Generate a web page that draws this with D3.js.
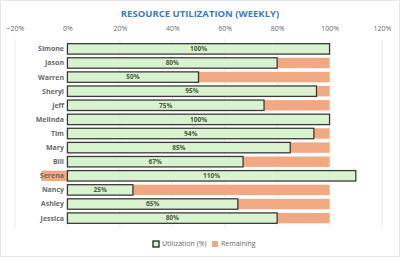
<!DOCTYPE html>
<html>
<head>
<meta charset="utf-8">
<script src="https://cdn.jsdelivr.net/npm/d3@7"></script>
<style>
  body { margin: 0; background: #fff; }
  text { font-family: "Open Sans", "Liberation Sans", sans-serif; }
</style>
</head>
<body>
<svg id="chart" width="400" height="258"></svg>
<script>
// chart data
var people = ["Simone", "Jason", "Warren", "Sheryl", "Jeff", "Melinda", "Tim", "Mary", "Bill", "Serena", "Nancy", "Ashley", "Jessica"];
var utilization = [1.00, 0.80, 0.50, 0.95, 0.75, 1.00, 0.94, 0.85, 0.67, 1.10, 0.25, 0.65, 0.80];
var remaining = [0.00, 0.20, 0.50, 0.05, 0.25, 0.00, 0.06, 0.15, 0.33, -0.10, 0.75, 0.35, 0.20];
var tickValues = [-0.2, 0, 0.2, 0.4, 0.6, 0.8, 1.0, 1.2];

var svg = d3.select("#chart");
var greenFill = "#d9f2d0";
var orangeFill = "#f1a983";
var textGray = "#6a6a6a";

// outer border of chart
svg.append("rect")
  .attr("x", 0.5).attr("y", 0.5)
  .attr("width", 399).attr("height", 256)
  .attr("fill", "none").attr("stroke", "#e6e6e6");

var x = d3.scaleLinear().domain([-0.2, 1.2]).range([15, 382]);
var y = d3.scaleBand().domain(people).range([40, 227]).padding(0.26);

// title
svg.append("text")
  .attr("x", 200).attr("y", 17)
  .attr("text-anchor", "middle")
  .attr("font-size", 9.5).attr("font-weight", "bold")
  .attr("fill", "#3a7dbf")
  .text("RESOURCE UTILIZATION (WEEKLY)");

// gridlines
svg.append("g").selectAll("line")
  .data(tickValues).enter().append("line")
  .attr("x1", function (d) { return x(d); })
  .attr("x2", function (d) { return x(d); })
  .attr("y1", 39).attr("y2", 228)
  .attr("stroke", "#ececec").attr("stroke-width", 1);

// top axis with tick labels
var axis = svg.append("g")
  .attr("transform", "translate(0,34)")
  .call(d3.axisTop(x).tickValues(tickValues).tickFormat(d3.format(".0%")).tickSize(0).tickPadding(3));
axis.select(".domain").remove();
axis.selectAll("text")
  .attr("font-size", 7).attr("fill", textGray)
  .style("font-family", "'Open Sans', sans-serif");

// remaining bars (stacked after utilization, negative goes left from zero)
svg.append("g").selectAll("rect")
  .data(people).enter().append("rect")
  .attr("x", function (d, i) {
    return remaining[i] >= 0 ? x(utilization[i]) : x(remaining[i]);
  })
  .attr("y", function (d) { return y(d); })
  .attr("width", function (d, i) { return Math.abs(x(remaining[i]) - x(0)); })
  .attr("height", y.bandwidth())
  .attr("fill", orangeFill);

// category labels
svg.append("g").selectAll("text")
  .data(people).enter().append("text")
  .attr("x", 64)
  .attr("y", function (d) { return y(d) + y.bandwidth() / 2; })
  .attr("dy", "0.35em")
  .attr("text-anchor", "end")
  .attr("font-size", 7).attr("font-weight", "bold")
  .attr("fill", textGray)
  .text(function (d) { return d; });

// utilization bars
svg.append("g").selectAll("rect")
  .data(people).enter().append("rect")
  .attr("x", x(0))
  .attr("y", function (d) { return y(d); })
  .attr("width", function (d, i) { return x(utilization[i]) - x(0); })
  .attr("height", y.bandwidth())
  .attr("fill", greenFill)
  .attr("stroke", "#3b3b3b").attr("stroke-width", 1.3);

// data labels
svg.append("g").selectAll("text")
  .data(people).enter().append("text")
  .attr("x", function (d, i) { return (x(0) + x(utilization[i])) / 2; })
  .attr("y", function (d) { return y(d) + y.bandwidth() / 2; })
  .attr("dy", "0.35em")
  .attr("text-anchor", "middle")
  .attr("font-size", 6.5).attr("font-weight", "bold")
  .attr("fill", "#4a5a44")
  .text(function (d, i) { return d3.format(".0%")(utilization[i]); });

// legend
var legend = svg.append("g").attr("transform", "translate(0,244)");
legend.append("rect")
  .attr("x", 153).attr("y", -3).attr("width", 6).attr("height", 6)
  .attr("fill", greenFill).attr("stroke", "#222").attr("stroke-width", 1.3);
legend.append("text")
  .attr("x", 162).attr("y", 0).attr("dy", "0.35em")
  .attr("font-size", 7).attr("fill", textGray)
  .text("Utilization (%)");
legend.append("rect")
  .attr("x", 212).attr("y", -3).attr("width", 6).attr("height", 6)
  .attr("fill", orangeFill);
legend.append("text")
  .attr("x", 221).attr("y", 0).attr("dy", "0.35em")
  .attr("font-size", 7).attr("fill", textGray)
  .text("Remaining");
</script>
</body>
</html>
